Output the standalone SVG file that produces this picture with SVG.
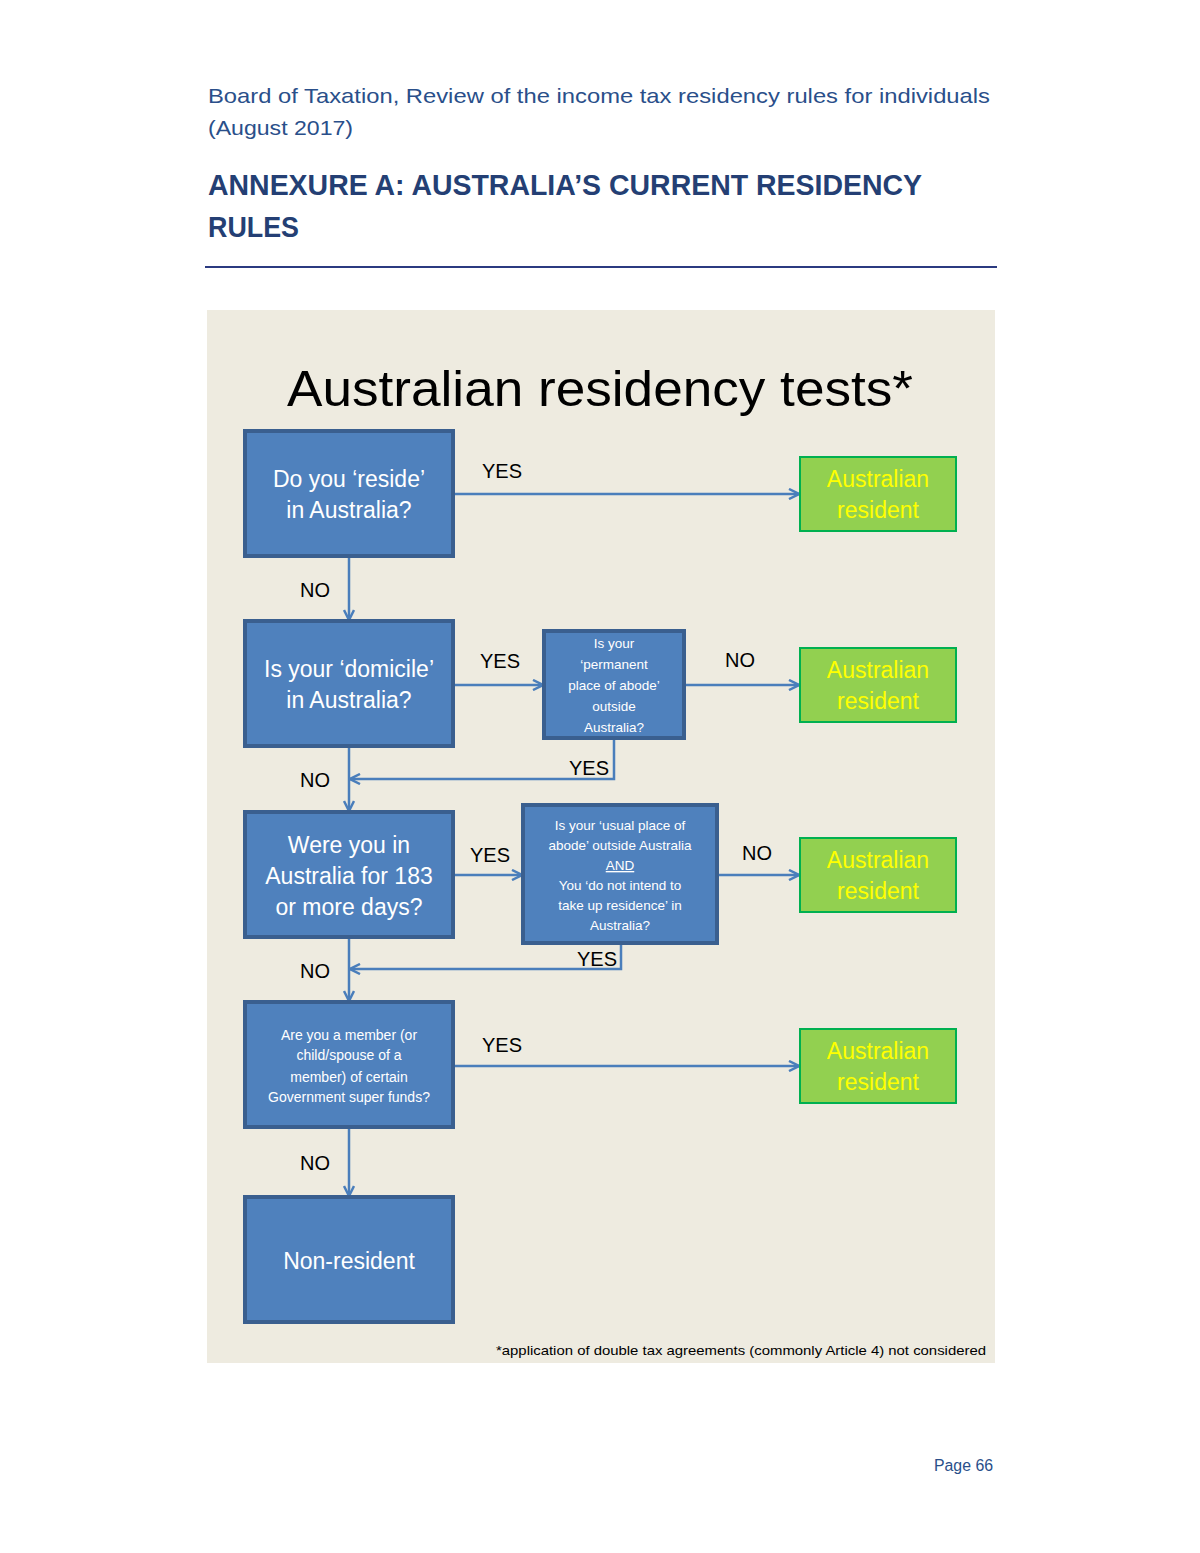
<svg xmlns="http://www.w3.org/2000/svg" width="1200" height="1553" viewBox="0 0 1200 1553">
<style>
.hdr{font-family:"Liberation Sans",Arial,sans-serif;fill:#2a4f8a}
.q{fill:#4f81bd;stroke:#3a5f8f;stroke-width:4}
.qt{font-family:"Liberation Sans",Arial,sans-serif;fill:#ffffff;text-anchor:middle}
.g{fill:#92d050;stroke:#00b050;stroke-width:2}
.gt{font-family:"Liberation Sans",Arial,sans-serif;fill:#ffff00;font-size:23px;text-anchor:middle}
.lbl{font-family:"Liberation Sans",Arial,sans-serif;fill:#000;font-size:20px}
.c{fill:none;stroke:#4a7ebb;stroke-width:2.5}
</style>
<defs>
<marker id="ar" viewBox="0 0 10 10" refX="9" refY="5" markerWidth="5" markerHeight="5" orient="auto" markerUnits="strokeWidth">
<path d="M1,1 L9,5 L1,9" fill="none" stroke="#4a7ebb" stroke-width="2"/>
</marker>
</defs>
<rect width="1200" height="1553" fill="#ffffff"/>
<g id="header">
<text class="hdr" x="208" y="103" font-size="21" textLength="782" lengthAdjust="spacingAndGlyphs">Board of Taxation, Review of the income tax residency rules for individuals</text>
<text class="hdr" x="208" y="135" font-size="21" textLength="145" lengthAdjust="spacingAndGlyphs">(August 2017)</text>
<text class="hdr" x="208" y="195" font-size="29" font-weight="bold" textLength="714" lengthAdjust="spacingAndGlyphs" style="fill:#243f74">ANNEXURE A: AUSTRALIA’S CURRENT RESIDENCY</text>
<text class="hdr" x="208" y="237" font-size="29" font-weight="bold" textLength="91" lengthAdjust="spacingAndGlyphs" style="fill:#243f74">RULES</text>
<line x1="205" y1="267" x2="997" y2="267" stroke="#2b3a80" stroke-width="2"/>
</g>
<rect id="panel" x="207" y="310" width="788" height="1053" fill="#eeebe0"/>
<text id="title" x="287" y="406" font-family="Liberation Sans,Arial,sans-serif" font-size="50" fill="#000" textLength="626" lengthAdjust="spacingAndGlyphs">Australian residency tests*</text>
<g id="connectors">
<line class="c" x1="453" y1="494" x2="799" y2="494" marker-end="url(#ar)"/>
<line class="c" x1="349" y1="556" x2="349" y2="620" marker-end="url(#ar)"/>
<line class="c" x1="453" y1="685" x2="543" y2="685" marker-end="url(#ar)"/>
<line class="c" x1="684" y1="685" x2="799" y2="685" marker-end="url(#ar)"/>
<polyline class="c" points="614,738 614,779 350,779" marker-end="url(#ar)"/>
<line class="c" x1="349" y1="746" x2="349" y2="811" marker-end="url(#ar)"/>
<line class="c" x1="453" y1="875" x2="522" y2="875" marker-end="url(#ar)"/>
<line class="c" x1="717" y1="875" x2="799" y2="875" marker-end="url(#ar)"/>
<polyline class="c" points="621,943 621,969 350,969" marker-end="url(#ar)"/>
<line class="c" x1="349" y1="937" x2="349" y2="1001" marker-end="url(#ar)"/>
<line class="c" x1="453" y1="1066" x2="799" y2="1066" marker-end="url(#ar)"/>
<line class="c" x1="349" y1="1127" x2="349" y2="1196" marker-end="url(#ar)"/>
<text class="lbl" x="482" y="478">YES</text>
<text class="lbl" x="300" y="597">NO</text>
<text class="lbl" x="480" y="668">YES</text>
<text class="lbl" x="725" y="667">NO</text>
<text class="lbl" x="609" y="775" text-anchor="end">YES</text>
<text class="lbl" x="300" y="787">NO</text>
<text class="lbl" x="470" y="862">YES</text>
<text class="lbl" x="742" y="860">NO</text>
<text class="lbl" x="617" y="966" text-anchor="end">YES</text>
<text class="lbl" x="300" y="978">NO</text>
<text class="lbl" x="482" y="1052">YES</text>
<text class="lbl" x="300" y="1170">NO</text>
</g>
<g id="q1">
<rect class="q" x="245" y="431" width="208" height="125"/>
<text class="qt" font-size="23"><tspan x="349" y="487">Do you  ‘reside’</tspan><tspan x="349" y="518">in Australia?</tspan></text>
</g>
<g id="q2">
<rect class="q" x="245" y="621" width="208" height="125"/>
<text class="qt" font-size="23"><tspan x="349" y="677">Is your ‘domicile’</tspan><tspan x="349" y="708">in Australia?</tspan></text>
</g>
<g id="q3">
<rect class="q" x="245" y="812" width="208" height="125"/>
<text class="qt" font-size="23"><tspan x="349" y="853">Were you in</tspan><tspan x="349" y="884">Australia for 183</tspan><tspan x="349" y="915">or more days?</tspan></text>
</g>
<g id="q4">
<rect class="q" x="245" y="1002" width="208" height="125"/>
<text class="qt" font-size="14"><tspan x="349" y="1040">Are you a member (or</tspan><tspan x="349" y="1060">child/spouse of a</tspan><tspan x="349" y="1082">member) of certain</tspan><tspan x="349" y="1102">Government super funds?</tspan></text>
</g>
<g id="nonres">
<rect class="q" x="245" y="1197" width="208" height="125"/>
<text class="qt" font-size="23" x="349" y="1269">Non-resident</text>
</g>
<g id="qa">
<rect class="q" x="544" y="631" width="140" height="107"/>
<text class="qt" font-size="13.5"><tspan x="614" y="648">Is your</tspan><tspan x="614" y="669">‘permanent</tspan><tspan x="614" y="690">place of abode’</tspan><tspan x="614" y="711">outside</tspan><tspan x="614" y="732">Australia?</tspan></text>
</g>
<g id="qb">
<rect class="q" x="523" y="805" width="194" height="138"/>
<text class="qt" font-size="13.5"><tspan x="620" y="830">Is your ‘usual place of</tspan><tspan x="620" y="850">abode’ outside Australia</tspan><tspan x="620" y="870" text-decoration="underline">AND</tspan><tspan x="620" y="890">You ‘do not intend to</tspan><tspan x="620" y="910">take up residence’ in</tspan><tspan x="620" y="930">Australia?</tspan></text>
</g>
<g id="r1">
<rect class="g" x="800" y="457" width="156" height="74"/>
<text class="gt"><tspan x="878" y="487">Australian</tspan><tspan x="878" y="518">resident</tspan></text>
</g>
<g id="r2">
<rect class="g" x="800" y="648" width="156" height="74"/>
<text class="gt"><tspan x="878" y="678">Australian</tspan><tspan x="878" y="709">resident</tspan></text>
</g>
<g id="r3">
<rect class="g" x="800" y="838" width="156" height="74"/>
<text class="gt"><tspan x="878" y="868">Australian</tspan><tspan x="878" y="899">resident</tspan></text>
</g>
<g id="r4">
<rect class="g" x="800" y="1029" width="156" height="74"/>
<text class="gt"><tspan x="878" y="1059">Australian</tspan><tspan x="878" y="1090">resident</tspan></text>
</g>
<text id="footnote" x="496" y="1355" font-family="Liberation Sans,Arial,sans-serif" font-size="13" fill="#000" textLength="490" lengthAdjust="spacingAndGlyphs">*application of double tax agreements (commonly Article 4) not considered</text>
<text id="page" x="934" y="1471" font-family="Liberation Sans,Arial,sans-serif" font-size="16" fill="#2a4f8a" textLength="59" lengthAdjust="spacingAndGlyphs">Page 66</text>
</svg>
